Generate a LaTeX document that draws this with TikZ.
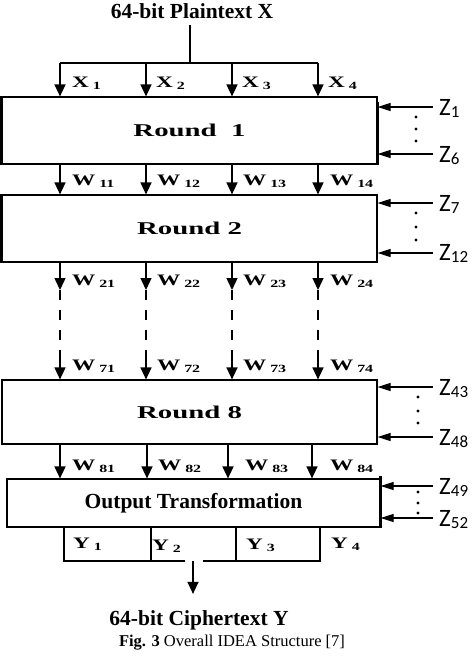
\documentclass[tikz,border=0pt]{standalone}
\usepackage{fontspec}
\setmainfont{Liberation Serif}
\newfontfamily\zfont{Carlito}
\usepackage{graphicx}
\usepackage{tikz}
\usetikzlibrary{arrows.meta,positioning}
\newcommand\sublbl[2]{\scalebox{1.45}[1]{#1\,\raisebox{-2.5pt}{\fontsize{11}{11}\selectfont #2}}}
\newcommand\zlbl[1]{Z\raisebox{-2pt}{\fontsize{17}{17}\selectfont #1}}

\begin{document}
\begin{tikzpicture}[x=1pt,y=-1pt,
  box/.style={draw, line width=1.2pt, minimum width=375pt, minimum height=67pt, inner sep=0pt, font=\fontsize{18}{18}\selectfont\bfseries},
  stem/.style={line width=1.4pt},
  dsh/.style={line width=1.4pt, dash pattern=on 10pt off 10pt},
  arr/.style={line width=1.4pt, -{Triangle[length=12pt,width=11pt]}},
  zarr/.style={line width=1.2pt, -{Triangle[length=13pt,width=8pt]}},
  bar/.style={line width=3.5pt},
  lbl/.style={anchor=base west, inner sep=0pt, font=\fontsize{16}{16}\selectfont\bfseries},
  zlab/.style={anchor=base west, inner sep=0pt, font=\zfont\fontsize{25}{25}\selectfont},
  ttl/.style={anchor=base, inner sep=0pt, font=\fontsize{21.5}{21.5}\selectfont\bfseries}]
\useasboundingbox (0,0) rectangle (474,657);
% input and the four 16-bit words
\node[ttl] (pt) at (192,18) {64-bit Plaintext X};
\coordinate (split) at (190,63);
\coordinate (c1) at (60,0);
\coordinate (c2) at (146,0);
\coordinate (c3) at (232,0);
\coordinate (c4) at (318,0);
% rounds
\node[box] (r1) at (189.5,130.5) {\scalebox{1.6}[1]{Round \ 1}};
\node[box] (r2) at (189.5,228.5) {\scalebox{1.6}[1]{Round 2}};
\node[box, minimum height=64pt] (r8) at (189.5,412) {\scalebox{1.6}[1]{Round 8}};
\node[box, minimum width=373pt, minimum height=48pt, font=\fontsize{21.5}{21.5}\selectfont\bfseries] (ot) at (193.5,503) {Output Transformation};
\draw[bar] (r1.north west) -- (r1.south west);
\draw[bar] ([yshift=-6pt]r1.north east) -- (r1.south east);
\draw[bar] (r2.north west) -- (r2.south west);
\draw[bar] ([yshift=2pt]ot.north east) -- (ot.south east);
% X_i into round 1
\draw[stem] ([yshift=-7pt]pt.south -| split) -- (split);
\draw[stem] (split -| c1) -- (split -| c4);
\draw[arr] (split -| c1) -- (r1.north -| c1);
\draw[arr] (split -| c2) -- (r1.north -| c2);
\draw[arr] (split -| c3) -- (r1.north -| c3);
\draw[arr] (split -| c4) -- (r1.north -| c4);
\node[lbl] (x1) at (72,87) {\sublbl{X}{1}};
\node[lbl] (x2) at (156,87) {\sublbl{X}{2}};
\node[lbl] (x3) at (242,87) {\sublbl{X}{3}};
\node[lbl] (x4) at (328,87) {\sublbl{X}{4}};
% round 1 -> round 2
\draw[arr] (r1.south -| c1) -- (r2.north -| c1);
\draw[arr] (r1.south -| c2) -- (r2.north -| c2);
\draw[arr] (r1.south -| c3) -- (r2.north -| c3);
\draw[arr] (r1.south -| c4) -- (r2.north -| c4);
\node[lbl] (w11) at (72,185) {\sublbl{W}{11}};
\node[lbl] (w12) at (157,185) {\sublbl{W}{12}};
\node[lbl] (w13) at (243,185) {\sublbl{W}{13}};
\node[lbl] (w14) at (330,185) {\sublbl{W}{14}};
% round 2 ... round 8 (dashed gap)
\coordinate (d1) at (60,290);
\coordinate (d2) at (146,290);
\coordinate (d3) at (232,290);
\coordinate (d4) at (318,290);
\coordinate (e1) at (60,350);
\coordinate (e2) at (146,350);
\coordinate (e3) at (232,350);
\coordinate (e4) at (318,350);
\draw[arr] (r2.south -| c1) -- (d1);
\draw[arr] (r2.south -| c2) -- (d2);
\draw[arr] (r2.south -| c3) -- (d3);
\draw[arr] (r2.south -| c4) -- (d4);
\draw[dsh] (d1) -- (e1);
\draw[dsh] (d2) -- (e2);
\draw[dsh] (d3) -- (e3);
\draw[dsh] (d4) -- (e4);
\draw[arr] (e1) -- (r8.north -| e1);
\draw[arr] (e2) -- (r8.north -| e2);
\draw[arr] (e3) -- (r8.north -| e3);
\draw[arr] (e4) -- (r8.north -| e4);
\node[lbl] (w21) at (72,285) {\sublbl{W}{21}};
\node[lbl] (w22) at (157,285) {\sublbl{W}{22}};
\node[lbl] (w23) at (243,285) {\sublbl{W}{23}};
\node[lbl] (w24) at (330,285) {\sublbl{W}{24}};
\node[lbl] (w71) at (72,370) {\sublbl{W}{71}};
\node[lbl] (w72) at (157,370) {\sublbl{W}{72}};
\node[lbl] (w73) at (243,370) {\sublbl{W}{73}};
\node[lbl] (w74) at (330,370) {\sublbl{W}{74}};
% round 8 -> output transformation
\coordinate (k2) at (147,0);
\coordinate (k3) at (228,0);
\coordinate (k4) at (312,0);
\draw[arr] (r8.south -| c1) -- (ot.north -| c1);
\draw[arr] (r8.south -| k2) -- (ot.north -| k2);
\draw[arr] (r8.south -| k3) -- (ot.north -| k3);
\draw[arr] (r8.south -| k4) -- (ot.north -| k4);
\node[lbl] (w81) at (72,470) {\sublbl{W}{81}};
\node[lbl] (w82) at (158,470) {\sublbl{W}{82}};
\node[lbl] (w83) at (245,470) {\sublbl{W}{83}};
\node[lbl] (w84) at (330,470) {\sublbl{W}{84}};
% subkeys
\coordinate (za1) at (433,107);
\coordinate (za6) at (433,154);
\coordinate (za7) at (433,203);
\coordinate (za12) at (433,253);
\coordinate (za43) at (433,387);
\coordinate (za48) at (433,437);
\coordinate (za49) at (433,486);
\coordinate (za52) at (433,518);
\draw[zarr] (za1) -- (za1 -| r1.east);
\draw[zarr] (za6) -- (za6 -| r1.east);
\draw[zarr] (za7) -- (za7 -| r2.east);
\draw[zarr] (za12) -- (za12 -| r2.east);
\draw[zarr] (za43) -- (za43 -| r8.east);
\draw[zarr] (za48) -- (za48 -| r8.east);
\draw[zarr] (za49) -- (za49 -| ot.east);
\draw[zarr] (za52) -- (za52 -| ot.east);
\node[zlab] (z1) at (439,115) {\zlbl{1}};
\node[zlab] (z6) at (439,162) {\zlbl{6}};
\node[zlab] (z7) at (439,211) {\zlbl{7}};
\node[zlab] (z12) at (439,260) {\zlbl{12}};
\node[zlab] (z43) at (439,395) {\zlbl{43}};
\node[zlab] (z48) at (439,445) {\zlbl{48}};
\node[zlab] (z49) at (439,494) {\zlbl{49}};
\node[zlab] (z52) at (439,526) {\zlbl{52}};
\fill (416,117) circle (1.6) (416,129) circle (1.6) (416,141) circle (1.6);
\fill (416,213) circle (1.6) (416,227) circle (1.6) (416,240) circle (1.6);
\fill (418,397) circle (1.6) (418,411) circle (1.6) (418,423) circle (1.6);
\fill (418,492) circle (1.6) (418,503) circle (1.6) (418,513) circle (1.6);
% output words
\coordinate (y1) at (64,561);
\coordinate (y2) at (151,561);
\coordinate (y3) at (236,561);
\coordinate (y4) at (320,561);
\coordinate (g1) at (185,561);
\coordinate (g2) at (203,561);
\draw[stem] (ot.south -| y1) -- (y1) -- (g1);
\draw[stem] (g2) -- (y4) -- (ot.south -| y4);
\draw[stem] (ot.south -| y2) -- (y2);
\draw[stem] (ot.south -| y3) -- (y3);
\node[lbl] (yy1) at (73,548) {\sublbl{Y}{1}};
\node[lbl] (yy2) at (152,550) {\sublbl{Y}{2}};
\node[lbl] (yy3) at (246,549) {\sublbl{Y}{3}};
\node[lbl] (yy4) at (331,548) {\sublbl{Y}{4}};
\node[ttl] (ct) at (199,625) {64-bit Ciphertext Y};
\coordinate (out) at (193,561);
\draw[arr] (out) -- ([yshift=16pt]ct.north -| out);
\node[anchor=base, inner sep=0pt, font=\fontsize{16.5}{16.5}\selectfont] (cap) at (232,646) {\textbf{Fig. 3} Overall IDEA Structure [7]};
\end{tikzpicture}
\end{document}
